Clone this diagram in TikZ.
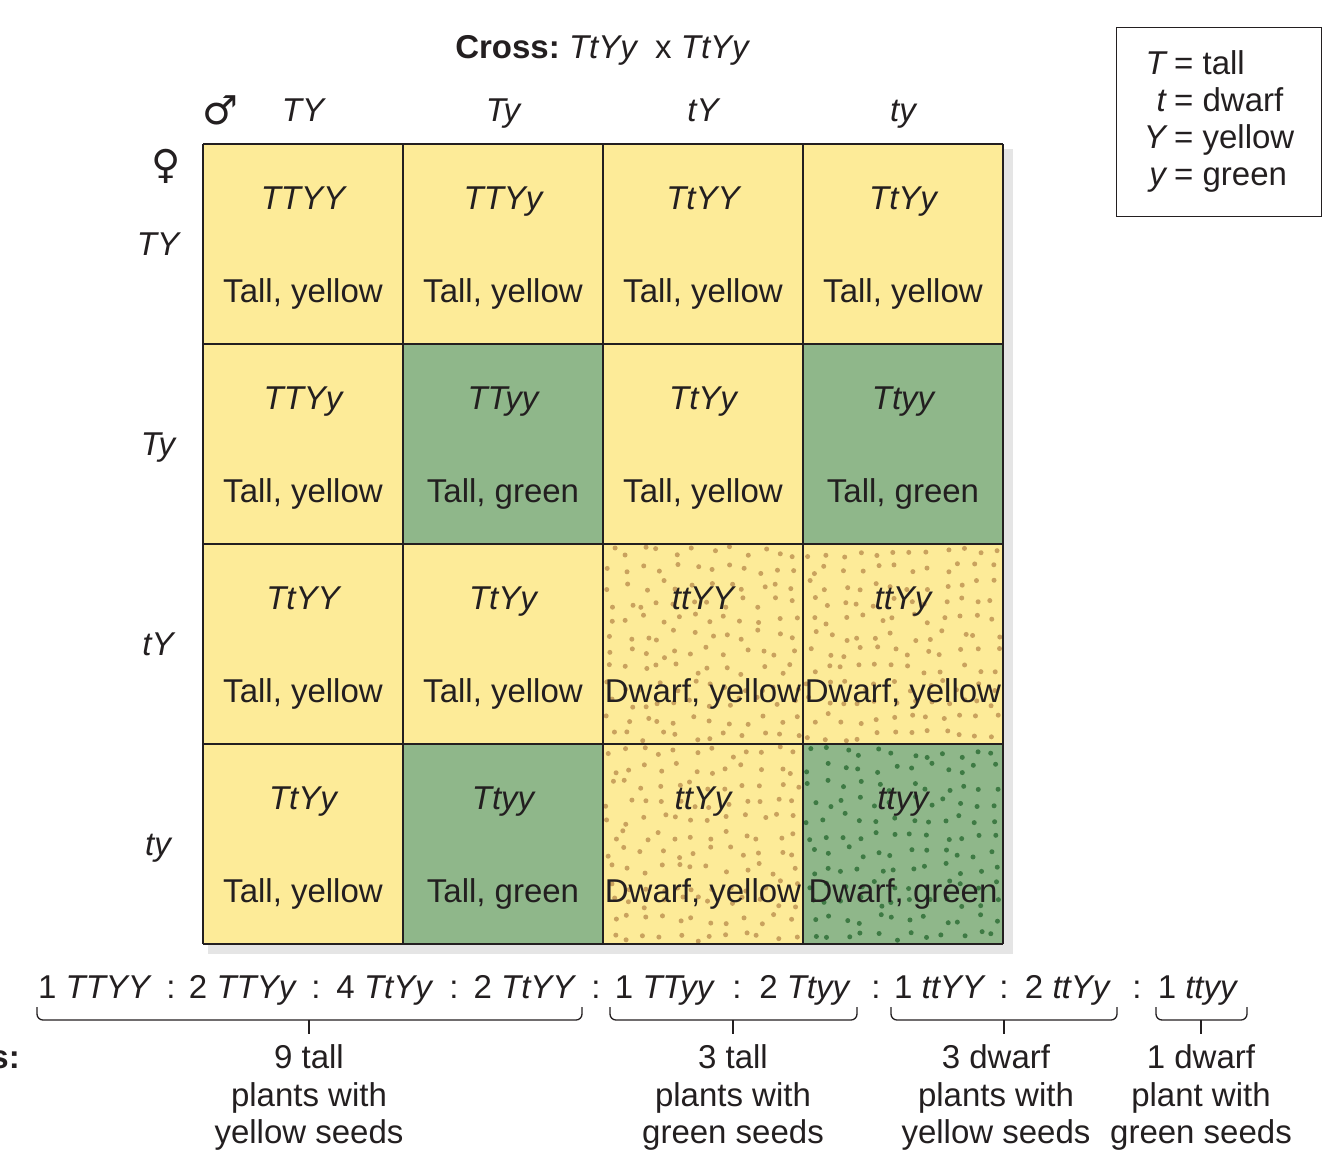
\documentclass[tikz,border=0pt]{standalone}
\usepackage{fontspec}
\setmainfont{Liberation Sans}
\newfontfamily\symfont{DejaVu Sans}
\definecolor{yel}{HTML}{FDEB98}
\definecolor{grn}{HTML}{8FB78A}
\definecolor{ydot}{HTML}{C9A25E}
\definecolor{gdot}{HTML}{3E7A44}
\definecolor{ink}{HTML}{231F20}
\begin{document}
\begin{tikzpicture}[x=1pt,y=-1pt,
  txt/.style={text=ink,font=\fontsize{33}{36}\selectfont,inner sep=0pt,anchor=base},
  brace/.style={draw=ink,line width=1.3pt,rounded corners=6pt}]
\useasboundingbox (0,0) rectangle (1331,1163);
% shadow
\fill[black!18] (211,152) rectangle (1011,952);
\fill[black!10] (208,149) rectangle (1013,954);
% cells
\foreach \r/\c/\f in {0/0/yel,0/1/yel,0/2/yel,0/3/yel,1/0/yel,1/1/grn,1/2/yel,1/3/grn,2/0/yel,2/1/yel,2/2/yel,2/3/yel,3/0/yel,3/1/grn,3/2/yel,3/3/grn}
  {\fill[\f] (203+\c*200,144+\r*200) rectangle ++(200,200);}
\pgfmathsetseed{7}
\foreach \r/\c/\d in {2/2/ydot,2/3/ydot,3/2/ydot,3/3/gdot}{
  \foreach \i in {0,...,11}{
    \foreach \j in {0,...,11}{
      \pgfmathsetmacro\px{203+\c*200+8+\i*16.7+11*rnd-5.5}
      \pgfmathsetmacro\py{144+\r*200+8+\j*16.7+11*rnd-5.5}
      \fill[\d] (\px,\py) circle (2.5);
  }}}
\foreach \i in {0,...,4}{
  \draw[ink,line width=1.5pt] (203+\i*200,144) -- (203+\i*200,944);
  \draw[ink,line width=1.5pt] (203,144+\i*200) -- (1003,144+\i*200);}
% cell texts
\foreach \r/\c/\g/\p in {
 0/0/TTYY/{Tall, yellow},0/1/TTYy/{Tall, yellow},0/2/TtYY/{Tall, yellow},0/3/TtYy/{Tall, yellow},
 1/0/TTYy/{Tall, yellow},1/1/TTyy/{Tall, green},1/2/TtYy/{Tall, yellow},1/3/Ttyy/{Tall, green},
 2/0/TtYY/{Tall, yellow},2/1/TtYy/{Tall, yellow},2/2/ttYY/{Dwarf, yellow},2/3/ttYy/{Dwarf, yellow},
 3/0/TtYy/{Tall, yellow},3/1/Ttyy/{Tall, green},3/2/ttYy/{Dwarf, yellow},3/3/ttyy/{Dwarf, green}}{
  \node[txt] (g\r\c) at (303+\c*200,209+\r*200) {\itshape\g};
  \node[txt] (p\r\c) at (303+\c*200,302+\r*200) {\p};}
% headers
\node[txt] (title) at (602,58) {\bfseries Cross:\mdseries\ \itshape TtYy\upshape\ \ x \itshape TtYy};
\node[txt] (male) at (220,124) {\symfont\fontsize{40}{40}\selectfont ♂};
\node[txt] (female) at (166,178) {\symfont\fontsize{40}{40}\selectfont ♀};
\foreach \c/\t in {0/TY,1/Ty,2/tY,3/ty}{
  \node[txt] (col\c) at (303+\c*200,121) {\itshape\t};
  \node[txt] (row\c) at (158,255+\c*200) {\itshape\t};}
% legend
\node[draw=ink,line width=1.3pt,minimum width=205,minimum height=189,anchor=north west] (legend) at (1116,27) {};
\foreach \i/\a/\b in {0/T/tall,1/t/dwarf,2/Y/yellow,3/y/green}{
  \node[txt,anchor=base east] (la\i) at (1166,74+\i*37) {\itshape\a};
  \node[txt,anchor=base west] (lb\i) at (1174,74+\i*37) {= \b};}
% ratio line
\foreach \x/\t [count=\k] in {95/{1 \textit{TTYY}},243/{2 \textit{TTYy}},385/{4 \textit{TtYy}},525/{2 \textit{TtYY}},665/{1 \textit{TTyy}},805/{2 \textit{Ttyy}},940/{1 \textit{ttYY}},1068/{2 \textit{ttYy}},1198/{1 \textit{ttyy}}}
  {\node[txt] (r\k) at (\x,998) {\t};}
\foreach \x [count=\k] in {171,316,454,596,737,876,1004,1137}
  {\node[txt] (s\k) at (\x,998) {:};}
% braces
\foreach \a/\b/\c [count=\k] in {37/582/309,610/857/733,891/1117/1004,1156/1247/1201}{
  \draw[brace] (\a,1007) -- (\a,1020) -- (\b,1020) -- (\b,1007);
  \draw[ink,line width=1.3pt] (\c,1020) -- (\c,1034);}
\foreach \x/\a/\b/\c [count=\k] in {309/9 tall/plants with/yellow seeds,733/3 tall/plants with/green seeds,996/3 dwarf/plants with/yellow seeds,1201/1 dwarf/plant with/green seeds}{
  \node[txt] (b\k a) at (\x,1068) {\a};
  \node[txt] (b\k b) at (\x,1106) {\b};
  \node[txt] (b\k c) at (\x,1143) {\c};}
\node[txt,anchor=base east] (lbl) at (20,1068) {\bfseries s:};
\end{tikzpicture}
\end{document}
